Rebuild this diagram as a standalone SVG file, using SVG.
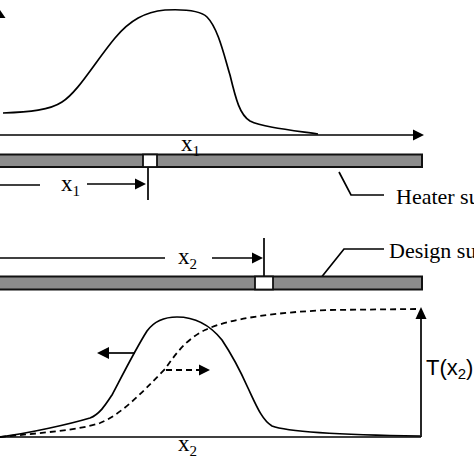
<svg xmlns="http://www.w3.org/2000/svg" width="474" height="474" viewBox="0 0 474 474">
<defs>
<style>
.ln{fill:none;stroke:#000;stroke-width:1.7}
.dash{fill:none;stroke:#000;stroke-width:1.8;stroke-dasharray:6 4}
.bar{fill:#8c8c8c;stroke:#111;stroke-width:2}
.sq{fill:#fff;stroke:#111;stroke-width:1.8}
.serif{font-family:"Liberation Serif","Times New Roman",serif;font-size:23px;fill:#000}
.lbl{font-size:22px}
.sans{font-family:"Liberation Sans",Arial,sans-serif;font-size:22px;fill:#000}
.sub{font-size:15px}
</style>
</defs>
<rect width="474" height="474" fill="#fff"/>
<g id="connectors">
<polygon points="0,10 -5,18 5.5,18" fill="#000"/>
<line class="ln" x1="0" y1="135" x2="414" y2="135"/>
<polygon points="424,135 413,129.5 413,140.5" fill="#000"/>
<line class="ln" x1="0" y1="185" x2="40" y2="185"/>
<line class="ln" x1="87" y1="184" x2="136" y2="184"/>
<polygon points="146,184 135,178.5 135,189.5" fill="#000"/>
<line class="ln" x1="148" y1="167" x2="148" y2="200"/>
<polyline class="ln" points="339,172 351,195 384,195"/>
<line class="ln" x1="0" y1="258" x2="165" y2="258"/>
<line class="ln" x1="212" y1="258" x2="252" y2="258"/>
<polygon points="263,258 252,252.5 252,263.5" fill="#000"/>
<line class="ln" x1="264" y1="238" x2="264" y2="276"/>
<polyline class="ln" points="320,279 344,249 384,249"/>
<line class="ln" x1="0" y1="437" x2="421" y2="437"/>
<line class="ln" x1="421" y1="437" x2="421" y2="318"/>
<polygon points="421,307 415.5,319 426.5,319" fill="#000"/>
<line class="ln" x1="135" y1="353" x2="108" y2="353"/>
<polygon points="97,353 109,347 109,359" fill="#000"/>
<line class="dash" x1="166" y1="370" x2="199" y2="370"/>
<polygon points="210,370 199,364.5 199,375.5" fill="#000"/>
</g>
<g id="heat-curve">
<path class="ln" d="M3,113 C30,112 50,110 62,102 C78,92 95,62 115,38 C130,20 145,12 165,10 C185,9 200,10 207,17 C218,28 224,55 230,75 C236,100 240,115 250,121 C262,127 290,130 318,134"/>
</g>
<g id="heater-surface">
<rect class="bar" x="-2" y="154.5" width="424" height="12.5"/>
<rect class="sq" x="143" y="154.5" width="14" height="12.5"/>
</g>
<g id="design-surface">
<rect class="bar" x="-2" y="276.5" width="424" height="13"/>
<rect class="sq" x="255" y="276.5" width="18" height="13"/>
</g>
<g id="response-curves">
<path class="ln" d="M0,437 C30,433 70,424 90,418 C100,414 106,404 112,395 C120,380 135,350 147,331 C155,320 165,317 177,317 C195,317 210,325 222,340 C232,355 240,370 248,388 C256,405 262,420 272,426 C290,433 350,435 420,436"/>
<path class="dash" d="M0,437 C40,433 80,430 100,423 C120,415 140,395 165,369 C175,355 185,340 205,330 C230,318 280,312 330,310 L416,309"/>
</g>
<g id="labels">
<text class="serif" x="181" y="151">x<tspan class="sub" dy="5">1</tspan></text>
<text class="serif" x="61" y="191">x<tspan class="sub" dy="5">1</tspan></text>
<text class="serif lbl" x="396" y="204">Heater su</text>
<text class="serif" x="178" y="264">x<tspan class="sub" dy="5">2</tspan></text>
<text class="serif lbl" x="389" y="258">Design su</text>
<text class="sans" x="426" y="375">T(x<tspan class="sub" dy="4">2</tspan><tspan dy="-4">)</tspan></text>
<text class="serif" x="178" y="451">x<tspan class="sub" dy="5">2</tspan></text>
</g>
</svg>
